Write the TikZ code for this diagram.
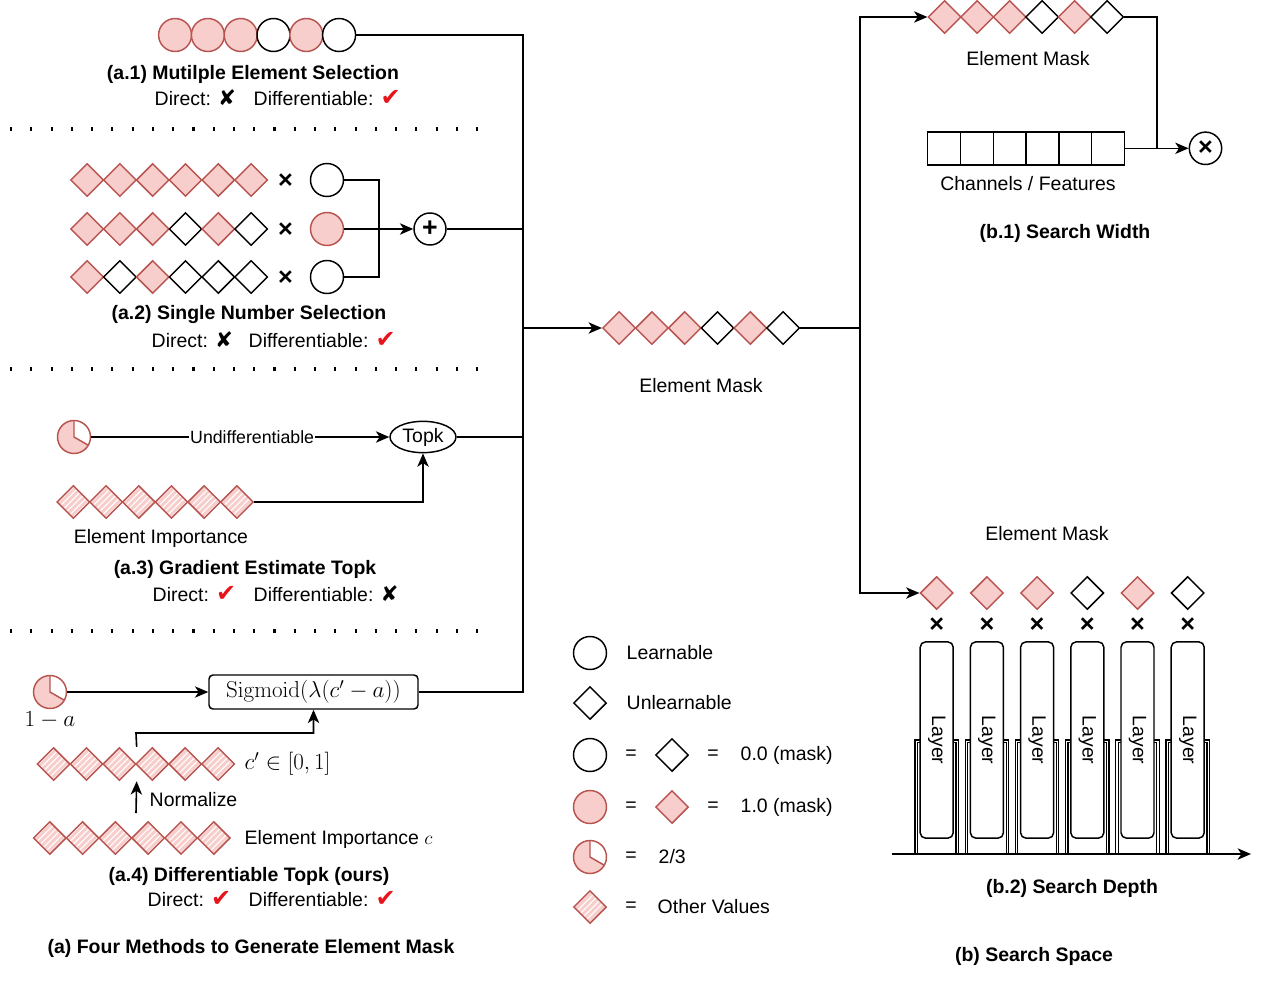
\documentclass[tikz,border=0pt]{standalone}
\usepackage[no-math]{fontspec}
\setmainfont{Liberation Sans}
\newfontfamily\symf{DejaVu Sans}
\usetikzlibrary{arrows.meta,shapes.geometric}
\definecolor{pinkf}{HTML}{F8CECC}
\definecolor{redd}{HTML}{B85450}
\definecolor{chk}{HTML}{E8141B}
\newcommand\mkyes{{\color{chk}\fontsize{18}{17}\selectfont\symf ✔}}
\newcommand\mkno{{\fontsize{16}{17}\selectfont\symf ✘}}
\begin{document}
\begin{tikzpicture}[x=0.75pt,y=-0.75pt,
  every node/.style={font=\fontsize{14.6}{17}\selectfont},
  sh/.style={line width=1.1pt, inner sep=0pt, minimum size=24.75pt},
  pc/.style={sh, circle, draw=redd, fill=pinkf},
  wc/.style={sh, circle, draw=black, fill=white},
  pd/.style={sh, diamond, draw=redd, fill=pinkf},
  wd/.style={sh, diamond, draw=black, fill=white},
  hd/.style={sh, diamond, draw=redd, fill=white, path picture={
     \foreach \k in {-4,...,4}{\draw[pinkf, line width=2.2pt]
       ([shift={(\k*4.6pt-16pt,-16pt)}]path picture bounding box.center) -- ++(32pt,32pt);}}},
  pie/.style={sh, circle, draw=redd, fill=pinkf, path picture={
     \fill[white] (path picture bounding box.center) -- ([shift={(90:20pt)}]path picture bounding box.center)
        -- ([shift={(30:30pt)}]path picture bounding box.center) -- ([shift={(-30:20pt)}]path picture bounding box.center) -- cycle;
     \draw[redd, line width=1.1pt] ([shift={(90:20pt)}]path picture bounding box.center) -- (path picture bounding box.center)
        -- ([shift={(-30:20pt)}]path picture bounding box.center);}},
  conn/.style={line width=1.2pt},
  arr/.style={line width=1.2pt, -{Stealth[length=10pt,width=8.5pt,inset=2.8pt]}},
  dotline/.style={line width=3pt, dash pattern=on 1.6pt off 13.6pt},
  ttl/.style={font=\fontsize{14.6}{17}\selectfont\bfseries},
  mth/.style={font=\fontsize{16.5}{20}\selectfont},
  tms/.style={font=\fontsize{19}{19}\selectfont\bfseries}
]
\useasboundingbox (0,0) rectangle (1270,985);

% ---------- (a.1)
\foreach \i/\s in {1/pc,2/pc,3/pc,4/wc,5/pc,6/wc}
  \node[\s] (a1c\i) at ({142.3+32.8*\i},35) {};
\node[ttl] (t1) at (253,74) {(a.1) Mutilple Element Selection};
\node[anchor=west] (d1a) at (150,98) {Direct: \mkno};
\node[anchor=west] (d1b) at (249,98) {Differentiable: \mkyes};
\draw[dotline] (10,129) -- (478,129);

% ---------- (a.2)
\foreach \i/\s in {1/pd,2/pd,3/pd,4/pd,5/pd,6/pd}
  \node[\s] (r1d\i) at ({54.3+32.8*\i},180) {};
\foreach \i/\s in {1/pd,2/pd,3/pd,4/wd,5/pd,6/wd}
  \node[\s] (r2d\i) at ({54.3+32.8*\i},229) {};
\foreach \i/\s in {1/pd,2/wd,3/pd,4/wd,5/wd,6/wd}
  \node[\s] (r3d\i) at ({54.3+32.8*\i},277) {};
\node[tms] (x1) at (285.5,181) {×};
\node[tms] (x2) at (285.5,230) {×};
\node[tms] (x3) at (285.5,278) {×};
\node[wc] (r1c) at (327,180) {};
\node[pc] (r2c) at (327,229) {};
\node[wc] (r3c) at (327,277) {};
\node[wc, minimum size=24pt] (plus) at (430,229) {\fontsize{20}{20}\selectfont\bfseries +};
\coordinate (brk) at (379,277);
\draw[conn] (r1c.east) -| (brk) -- (r3c.east);
\draw[arr] (r2c.east) -- (plus.west);
\node[ttl] (t2) at (249,315) {(a.2) Single Number Selection};
\node[anchor=west] (d2a) at (147,340) {Direct: \mkno};
\node[anchor=west] (d2b) at (244,340) {Differentiable: \mkyes};
\draw[dotline] (10,369) -- (478,369);

% ---------- (a.3)
\node[pie] (pie3) at (74,437) {};
\node[ellipse, draw, line width=1.1pt, minimum width=49.5pt, minimum height=23.5pt, inner sep=0pt] (topk) at (423,437) {Topk};
\draw[arr] (pie3) -- node[pos=0.54, fill=white, inner sep=1pt, font=\fontsize{13.3}{15}\selectfont] (und) {Undifferentiable} (topk);
\foreach \i in {1,...,6}
  \node[hd] (h3\i) at ({40.7+32.7*\i},502) {};
\draw[arr] (h36.east) -| (topk.south);
\node (ei3) at (161,538) {Element Importance};
\node[ttl] (t3) at (245,569) {(a.3) Gradient Estimate Topk};
\node[anchor=west] (d3a) at (148,594) {Direct: \mkyes};
\node[anchor=west] (d3b) at (249,594) {Differentiable: \mkno};
\draw[dotline] (10,631) -- (478,631);

% ---------- (a.4)
\node[pie] (pie4) at (50,692) {};
\node[mth] (oma) at (50,720) {$1-a$};
\node[draw, rounded corners=3pt, line width=1.1pt, minimum width=156.75pt, minimum height=25.5pt, inner sep=0pt] (sig) at (313.5,692)
  {\fontsize{17}{20}\selectfont$\mathrm{Sigmoid}(\lambda(c'-a))$};
\draw[arr] (pie4) -- (sig.west);
\foreach \i in {1,...,6}
  \node[hd] (h4a\i) at ({20.7+32.9*\i},764) {};
\foreach \i in {1,...,6}
  \node[hd] (h4b\i) at ({17+32.8*\i},838) {};
\node[mth, anchor=west] (cp) at (240,764) {$c'\in[0,1]$};
\coordinate (k1) at (136,733);
\draw[arr] (h4a3.east |- h4a3.north) -- (k1) -| (sig.south);
\coordinate (n0) at (136,813);
\draw[arr] (n0) -- (h4a3.east |- h4a3.south);
\node[anchor=west] (nrm) at (145,800) {Normalize};
\node[anchor=west] (eic) at (240,839) {Element Importance $c$};
\node[ttl] (t4) at (249,876) {(a.4) Differentiable Topk (ours)};
\node[anchor=west] (d4a) at (143,899) {Direct: \mkyes};
\node[anchor=west] (d4b) at (244,899) {Differentiable: \mkyes};
\node[ttl] (ta) at (251,948) {(a) Four Methods to Generate Element Mask};

% ---------- bus (a) -> mask
\coordinate (bA) at (523,35);
\coordinate (bB) at (523,692);
\draw[conn] (a1c6.east) -- (bA) -- (bB) -- (sig.east);
\draw[conn] (plus.east) -- (plus.east -| bA);
\draw[conn] (topk.east) -- (topk.east -| bA);

% ---------- middle mask
\foreach \i/\s in {1/pd,2/pd,3/pd,4/wd,5/pd,6/wd}
  \node[\s] (m\i) at ({586.3+32.8*\i},328) {};
\draw[arr] (bA |- m1.west) -- (m1.west);
\node (em) at (701,386) {Element Mask};
\coordinate (bC) at (860,328);
\draw[conn] (m6.east) -- (bC);

% ---------- (b.1)
\foreach \i/\s in {1/pd,2/pd,3/pd,4/wd,5/pd,6/wd}
  \node[\s] (w\i) at ({912.1+32.5*\i},17) {};
\draw[arr] (bC) |- (w1.west);
\foreach \i in {1,...,6}
  \node[draw, line width=1.1pt, minimum width=24.6pt, minimum height=24.75pt, inner sep=0pt] (ch\i) at ({927.7+32.77*(\i-0.5)},148.3) {};
\node[wc, minimum size=24.3pt] (xc) at (1205.5,148.3) {\fontsize{19}{19}\selectfont\bfseries ×};
\coordinate (jn) at (1156.7,148.3);
\draw[conn] (w6.east) -| (jn);
\draw[arr] (ch6.east) -- (xc.west);
\node (emw) at (1028,59) {Element Mask};
\node (chf) at (1028,184) {Channels / Features};
\node[ttl] (tb1) at (1065,233) {(b.1) Search Width};

% ---------- (b.2)
\node (emd) at (1047,534) {Element Mask};
\foreach \i/\s in {1/pd,2/pd,3/pd,4/wd,5/pd,6/wd}
  \node[\s] (d\i) at ({886.5+50.2*\i},593) {};
\draw[arr] (bC) |- (d1.west);
\foreach \i in {1,...,6}{
  \pgfmathsetmacro{\cx}{886.5+50.2*\i}
  \draw[line width=0.9pt] (\cx-21.7,854) -- (\cx-21.7,740) -- (\cx+21.7,740) -- (\cx+21.7,854);
  \draw[line width=0.9pt] (\cx-19.3,854) -- (\cx-19.3,742.5) -- (\cx+19.3,742.5) -- (\cx+19.3,854);
  \node[tms] (dx\i) at (\cx,625) {×};
  \node[draw, fill=white, rounded corners=4pt, line width=1.1pt, rotate=-90, minimum width=147.2pt, minimum height=24.75pt, inner sep=0pt] (L\i) at (\cx,740) {Layer};
}
\coordinate (ax0) at (891.7,854);
\coordinate (ax1) at (1251,854);
\draw[arr] (ax0) -- (ax1);
\node[ttl] (tb2) at (1072,888) {(b.2) Search Depth};
\node[ttl] (tb) at (1034,956) {(b) Search Space};

% ---------- legend
\node[wc] (lg1) at (590,653) {};
\node[anchor=west] (lt1) at (622,653) {Learnable};
\node[wd] (lg2) at (590,703) {};
\node[anchor=west] (lt2) at (622,703) {Unlearnable};
\node[wc] (lg3) at (590,755) {};
\node (eq3a) at (631,755) {=};
\node[wd] (lg3d) at (672,755) {};
\node (eq3b) at (713,755) {=};
\node[anchor=west] (lt3) at (736,755) {0.0 (mask)};
\node[pc] (lg4) at (590,807) {};
\node (eq4a) at (631,807) {=};
\node[pd] (lg4d) at (672,807) {};
\node (eq4b) at (713,807) {=};
\node[anchor=west] (lt4) at (736,807) {1.0 (mask)};
\node[pie] (lg5) at (590,857) {};
\node (eq5) at (631,857) {=};
\node[anchor=west] (lt5) at (654,857) {2/3};
\node[hd] (lg6) at (590,907) {};
\node (eq6) at (631,907) {=};
\node[anchor=west] (lt6) at (653,907) {Other Values};
\end{tikzpicture}
\end{document}
